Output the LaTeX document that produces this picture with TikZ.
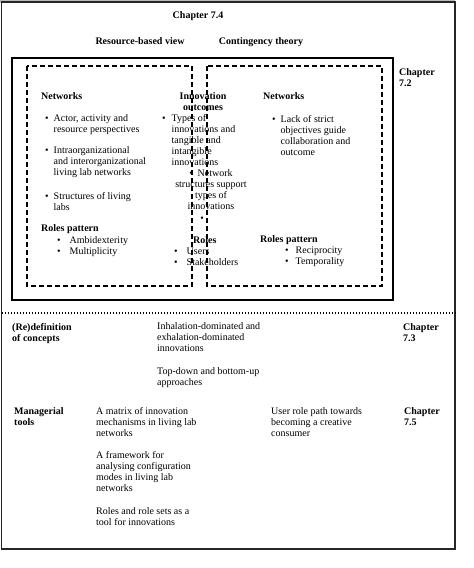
\documentclass[tikz,border=0pt]{standalone}
\usepackage{fontspec}
\setmainfont{Liberation Serif}
\newcommand\tl[1]{\begin{tabular}[t]{@{}l@{}}#1\end{tabular}}
\newcommand\tcn[1]{\begin{tabular}[t]{@{}c@{}}#1\end{tabular}}
\newcommand\bt[2]{\begin{tabular}[t]{@{}l@{\hspace{#1}}l@{}}#2\end{tabular}}
\begin{document}
\begin{tikzpicture}[x=1pt,y=-1pt,
  txt/.style={font=\fontsize{10}{11.2}\selectfont, inner sep=0pt, anchor=base west},
  hd/.style={txt, font=\fontsize{10}{11.2}\selectfont\bfseries},
  frame/.style={draw=black!85, line width=1.8pt},
  solidbox/.style={draw=black, line width=1.1pt},
  dbox/.style={draw=black, line width=1.2pt, dash pattern=on 5pt off 3pt},
  dotline/.style={draw=black, line width=1.4pt, dash pattern=on 1.2pt off 1.8pt}]
\useasboundingbox (0,0) rectangle (474,568);
\fill[gray!55] (0,0) rectangle (455,2.5);
\draw[frame] (1.5,2) rectangle (455,549);
\draw[solidbox] (12,58) rectangle (393,300);
\draw[dbox] (27,66) rectangle (192,286);
\draw[dbox] (207,66) rectangle (382,286);
\coordinate (dl) at (1.5,313);
\coordinate (dr) at (455,313);
\draw[dotline] (dl) -- (dr);

% top
\node[hd, anchor=base] (c74) at (198,18) {Chapter 7.4};
\node[hd, anchor=base] (rbv) at (140,44) {Resource-based view};
\node[hd, anchor=base] (ct) at (261,44) {Contingency theory};
\node[hd] (c72) at (399,75) {\tl{Chapter\\7.2}};

% left box
\node[hd] (netl) at (41,99) {Networks};
\node[txt] (nl1) at (45,121) {\bt{5pt}{\textbullet & Actor, activity and\\ & resource perspectives}};
\node[txt] (nl2) at (45,153) {\bt{5pt}{\textbullet & Intraorganizational\\ & and interorganizational\\ & living lab networks}};
\node[txt] (nl3) at (45,199) {\bt{5pt}{\textbullet & Structures of living\\ & labs}};
\node[hd] (rpl) at (41,231) {Roles pattern};
\node[txt] (rl) at (57,243) {\bt{9pt}{\textbullet & Ambidexterity\\ \textbullet & Multiplicity}};

% centre
\node[hd, anchor=base] (io) at (203,99) {\tcn{Innovation\\outcomes}};
\node[txt] (io1) at (162,121) {\bt{6pt}{\textbullet & Types of\\ & innovations and\\ & tangible and\\ & intangible\\ & innovations}};
\node[txt, anchor=base] (io2) at (211,176) {\tcn{\textbullet\ \ Network\\structures support\\types of\\innovations}};
\node[txt, anchor=base] (io3) at (202,221) {\textbullet};
\node[hd] (roles) at (193,243) {Roles};
\node[txt] (ro) at (174,254) {\bt{9pt}{\textbullet & Users\\ \textbullet & Stakeholders}};

% right box
\node[hd] (netr) at (263,99) {Networks};
\node[txt] (nr1) at (272,122) {\bt{5pt}{\textbullet & Lack of strict\\ & objectives guide\\ & collaboration and\\ & outcome}};
\node[hd] (rpr) at (260,242) {Roles pattern};
\node[txt] (rr) at (285,253) {\bt{7pt}{\textbullet & Reciprocity\\ \textbullet & Temporality}};

% middle section
\node[hd] (redef) at (12,330) {\tl{(Re)definition\\of concepts}};
\node[txt] (inh) at (157,329) {\tl{Inhalation-dominated and\\exhalation-dominated\\innovations}};
\node[txt] (td) at (157,374) {\tl{Top-down and bottom-up\\approaches}};
\node[hd] (c73) at (403,330) {\tl{Chapter\\7.3}};

% bottom section
\node[hd] (mgr) at (14,414) {\tl{Managerial\\tools}};
\node[txt] (m1) at (96,414) {\tl{A matrix of innovation\\mechanisms in living lab\\networks}};
\node[txt] (m2) at (96,458) {\tl{A framework for\\analysing configuration\\modes in living lab\\networks}};
\node[txt] (m3) at (96,514) {\tl{Roles and role sets as a\\tool for innovations}};
\node[txt] (urp) at (271,414) {\tl{User role path towards\\becoming a creative\\consumer}};
\node[hd] (c75) at (404,414) {\tl{Chapter\\7.5}};
\end{tikzpicture}
\end{document}
